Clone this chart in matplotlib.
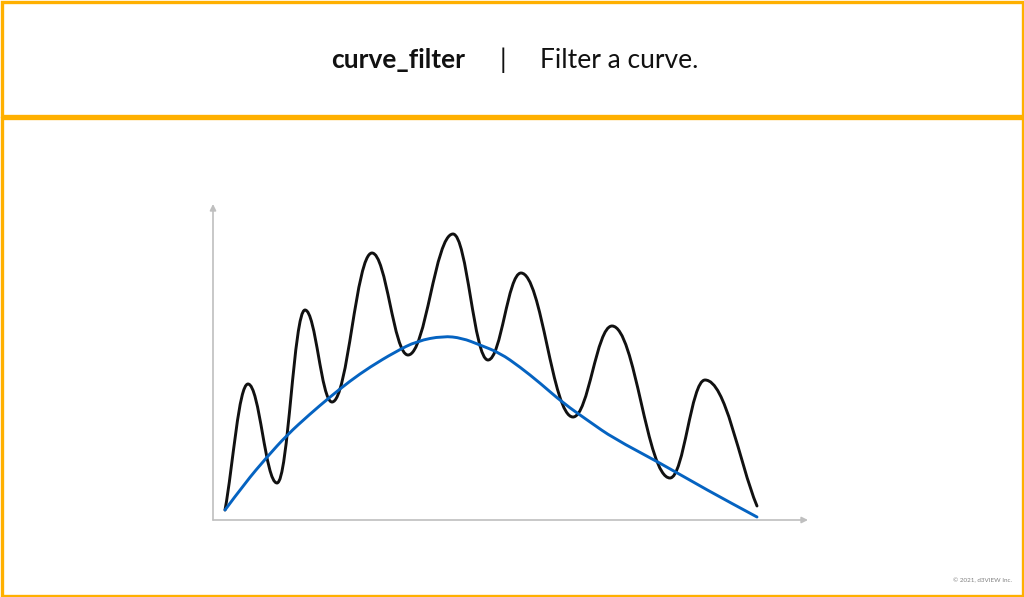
import numpy as np
import matplotlib.pyplot as plt
from matplotlib.path import Path
from matplotlib.patches import PathPatch, Rectangle

# ======= DATA (x/y units relative to origin) =======
# extrema of the raw (noisy) curve
raw_x = [12, 35, 64, 92, 119, 159, 195, 240, 275, 308, 360, 399, 457, 492, 544]
raw_y = [10, 136, 37, 210, 118, 267, 165, 286, 160, 247, 103, 194, 42, 140, 14]

# filtered curve
filt_x = [12, 32, 54, 74, 97, 117, 137, 157, 182, 204, 230, 249, 267, 287,
          307, 327, 350, 377, 400, 447, 494, 544]
filt_y = [10, 37, 63, 85, 106, 123, 139, 153, 168, 179, 184, 182, 175, 167,
          153, 137, 117, 98, 82, 57, 30, 3]

title_bold = "curve_filter"
title_text = "Filter a curve."
copyright_text = "\u00a9 2021, d3VIEW Inc."

ORANGE = "#FFB000"
GRAY = "#BFBFBF"
BLUE = "#0563C1"

W, H = 1024, 597
fig = plt.figure(figsize=(W / 100, H / 100), dpi=100)
fig.patch.set_facecolor("white")

# ======= FRAMES =======
frame = fig.add_axes([0, 0, 1, 1])
frame.set_xlim(0, W)
frame.set_ylim(H, 0)
frame.axis("off")
frame.add_patch(Rectangle((1.5, 1.5), W - 3, 114.5, fill=False, ec=ORANGE, lw=2.4))
frame.add_patch(Rectangle((1.5, 118), W - 3, H - 119.5, fill=False, ec=ORANGE, lw=2.4))

# ======= TITLE =======
fs = 19
fig.text(398 / W, 1 - 60 / H, title_bold, fontsize=fs, fontweight="bold",
         family="Lato", ha="center", va="center", color="#111111")
fig.text(503 / W, 1 - 60 / H, "|", fontsize=fs, family="Lato",
         ha="center", va="center", color="#111111")
fig.text(619 / W, 1 - 60 / H, title_text, fontsize=fs, family="Lato",
         ha="center", va="center", color="#111111")
fig.text(1012 / W, 1 - 581 / H, copyright_text, fontsize=4.5, family="Lato",
         ha="right", va="center", color="#808080")

# ======= PLOT AREA =======
ax = fig.add_axes([213 / W, (H - 520) / H, 595 / W, 316 / H])
ax.set_xlim(0, 595)
ax.set_ylim(0, 316)
ax.axis("off")

arrow = dict(arrowstyle="-|>", color=GRAY, lw=1.2, mutation_scale=9,
             shrinkA=0, shrinkB=0)
ax.annotate("", xy=(0, 316), xytext=(0, 0), arrowprops=arrow, annotation_clip=False)
ax.annotate("", xy=(595, 0), xytext=(0, 0), arrowprops=arrow, annotation_clip=False)

# raw curve: cubic bezier segments between extrema (flat tangents at extrema)
k = 0.4
verts = [(raw_x[0], raw_y[0])]
codes = [Path.MOVETO]
n = len(raw_x)
for i in range(n - 1):
    x0, y0, x1, y1 = raw_x[i], raw_y[i], raw_x[i + 1], raw_y[i + 1]
    dx, dy = x1 - x0, y1 - y0
    if i == 0:
        c1 = (x0 + 0.35 * dx, y0 + 0.35 * dy)
    else:
        c1 = (x0 + k * dx, y0)
    if i == n - 2:
        c2 = (x1 - 0.35 * dx, y1 - 0.35 * dy)
    else:
        c2 = (x1 - k * dx, y1)
    verts += [c1, c2, (x1, y1)]
    codes += [Path.CURVE4] * 3
ax.add_patch(PathPatch(Path(verts, codes), fill=False, ec="#111111", lw=2.1,
                       capstyle="round", joinstyle="round"))

# filtered curve: quadratic smoothing through the read points
fv = [(filt_x[0], filt_y[0])]
fc = [Path.MOVETO]
for i in range(1, len(filt_x) - 1):
    mid = ((filt_x[i] + filt_x[i + 1]) / 2, (filt_y[i] + filt_y[i + 1]) / 2)
    fv += [(filt_x[i], filt_y[i]), mid]
    fc += [Path.CURVE3, Path.CURVE3]
fv.append((filt_x[-1], filt_y[-1]))
fc.append(Path.LINETO)
ax.add_patch(PathPatch(Path(fv, fc), fill=False, ec=BLUE, lw=2.1,
                       capstyle="round", joinstyle="round"))

plt.savefig("out.png", dpi=100)
